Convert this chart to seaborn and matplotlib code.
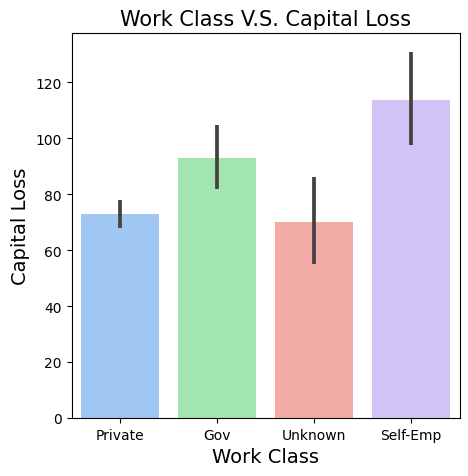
import matplotlib
matplotlib.use("Agg")
import matplotlib.pyplot as plt
import seaborn as sns
import pandas as pd

# Work class vs capital loss: mean and 95% CI
work_class = ['Private', 'Gov', 'Unknown', 'Self-Emp']
capital_loss = [72.9, 92.9, 70.0, 113.6]
ci_low = [68.0, 81.9, 55.1, 97.6]
ci_high = [77.9, 104.6, 86.1, 131.0]

df = pd.DataFrame({'WorkClass': work_class, 'CapitalLoss': capital_loss})

# old-style seaborn pastel (blue, green, red, purple); barplot desaturates to .75
colors = ["#92C6FF", "#97F0AA", "#FF9F9A", "#D0BBFF"]

fig, ax = plt.subplots(figsize=(4.68, 4.77), dpi=100)
sns.barplot(data=df, x='WorkClass', y='CapitalLoss', hue='WorkClass',
            palette=colors, errorbar=None, legend=False, ax=ax)

# Confidence interval lines, styled like seaborn's default
for i, (lo, hi) in enumerate(zip(ci_low, ci_high)):
    ax.plot([i, i], [lo, hi], color='.26', lw=2.7, solid_capstyle='butt')

ax.set_xlim(-0.5, len(work_class) - 0.5)
ax.set_title('Work Class V.S. Capital Loss', fontsize=15)
ax.set_xlabel('Work Class', fontsize=14)
ax.set_ylabel('Capital Loss', fontsize=14)
ax.tick_params(axis='x', labelsize=10)

fig.subplots_adjust(left=0.153, right=0.982, bottom=0.122, top=0.928)
fig.savefig('out.png', dpi=100)
